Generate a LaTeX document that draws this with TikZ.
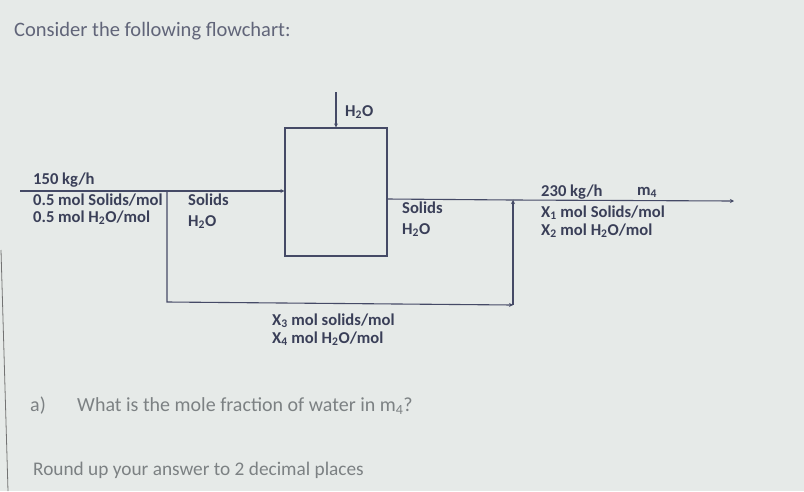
\documentclass[tikz,border=0pt]{standalone}
\usepackage{fontspec}
\setmainfont{Carlito}
\usetikzlibrary{arrows.meta}
\definecolor{bg}{HTML}{E6EAE8}
\definecolor{ink}{HTML}{454A66}
\definecolor{txt}{HTML}{3A3F58}
\definecolor{qtxt}{HTML}{7C8183}
\tikzset{
  flow/.style={draw=ink, line width=1.1pt},
  arr/.style={flow, -{Stealth[length=4pt,width=4pt]}},
  lbl/.style={anchor=base west, inner sep=0pt, text=txt, font=\fontsize{16.6}{18}\selectfont\bfseries},
  qlbl/.style={anchor=base west, inner sep=0pt, text=qtxt, font=\fontsize{20}{23}\selectfont},
  unitbox/.style={draw=ink, line width=1.1pt, minimum width=102pt, minimum height=128pt, inner sep=0pt}
}
\newcommand{\sub}[1]{\textsubscript{#1}}
\begin{document}
\begin{tikzpicture}[x=1pt,y=-1pt]
\fill[bg] (0,0) rectangle (804,491);
\useasboundingbox (0,0) rectangle (804,491);
\draw[draw=black!55, line width=0.8pt] (1,250) -- (8,491);

% title
\node[qlbl, text=txt!80, font=\fontsize{20.5}{23}\selectfont] (title) at (14,36) {Consider the following flowchart:};

% unit
\node[unitbox] (unit) at (336,192) {};

% top water feed
\coordinate (wtop) at (336,92);
\draw[arr] (wtop) -- (unit.north);
\node[lbl] (wlbl) at (345,116) {H\sub{2}O};

% feed line
\coordinate (fstart) at (20,191);
\coordinate (split) at (167,191);
\draw[arr] (fstart) -- (unit.west |- fstart);
\node[lbl] (f1) at (33,184) {150 kg/h};
\node[lbl] (f2) at (33,205) {0.5 mol Solids/mol};
\node[lbl] (f3) at (33,222) {0.5 mol H\sub{2}O/mol};
\node[lbl] (b1) at (188,205) {Solids};
\node[lbl] (b2) at (188,226) {H\sub{2}O};

% bypass
\coordinate (bl) at (167,302);
\coordinate (br) at (513,305);
\coordinate (join) at (513,200);
\draw[arr] (split) -- (bl) -- (br);
\draw[arr] (br) -- (join);
\node[lbl] (x3) at (272,325) {X\sub{3} mol solids/mol};
\node[lbl] (x4) at (272,343) {X\sub{4} mol H\sub{2}O/mol};

% unit outlet
\coordinate (oout) at (387,199);
\coordinate (oend) at (734,201);
\draw[flow] (oout) -- (join);
\draw[arr] (join) -- (oend);
\node[lbl] (o1) at (402,213) {Solids};
\node[lbl] (o2) at (402,234) {H\sub{2}O};

% product labels
\node[lbl] (p1) at (541,196) {230 kg/h};
\node[lbl] (p2) at (637,195) {m\sub{4}};
\node[lbl] (p3) at (541,217) {X\sub{1} mol Solids/mol};
\node[lbl] (p4) at (541,235) {X\sub{2} mol H\sub{2}O/mol};

% question
\node[qlbl] (qa) at (30,411) {a)};
\node[qlbl] (q1) at (77,411) {What is the mole fraction of water in m\sub{4}?};
\node[qlbl, font=\fontsize{19.3}{22}\selectfont] (q2) at (33,475) {Round up your answer to 2 decimal places};
\end{tikzpicture}
\end{document}
